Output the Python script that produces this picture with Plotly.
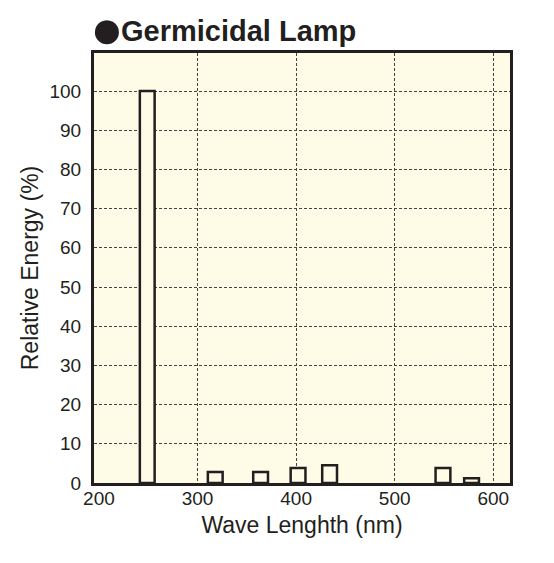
import plotly.graph_objects as go

# Spectral lines
wavelength = [249, 318, 364, 402, 434, 549, 578]   # nm
energy = [100, 2.8, 2.8, 3.8, 4.5, 3.8, 1.2]        # relative energy (%)
bar_width = 15

x_ticks = [200, 300, 400, 500, 600]
x_grid = [300, 400, 500, 600]
y_ticks = list(range(0, 101, 10))

ink = "#231f20"
paper_bg = "#fefbe6"
font_family = "Liberation Sans, Arial, sans-serif"

fig = go.Figure(go.Bar(
    x=wavelength, y=energy, width=bar_width,
    marker=dict(color=paper_bg, line=dict(color=ink, width=2.5)),
    showlegend=False,
))

# page body has an 8px margin, so the figure is 8px smaller than the window
fig.update_layout(
    width=546, height=555,
    margin=dict(l=86, r=44, t=45, b=80),
    paper_bgcolor="white",
    plot_bgcolor=paper_bg,
    font=dict(family=font_family, size=19, color=ink),
    annotations=[
        dict(  # big bullet in front of the heading
            text="●", font=dict(family=font_family, size=56, color=ink),
            xref="paper", x=0.0, xanchor="center", xshift=13,
            yref="paper", y=1.0, yanchor="middle", yshift=25,
            showarrow=False,
        ),
        dict(
            text="<b>Germicidal Lamp</b>",
            font=dict(family=font_family, size=29, color=ink),
            xref="paper", x=0.0, xanchor="left", xshift=25,
            yref="paper", y=1.0, yanchor="middle", yshift=22,
            showarrow=False,
        ),
    ],
)

fig.update_xaxes(
    range=[195, 617],
    tickvals=x_ticks,
    showgrid=False,
    minor=dict(tickvals=x_grid, showgrid=True, gridcolor="#444",
               griddash="3px,2px", gridwidth=1, ticklen=0),
    showline=True, linecolor=ink, linewidth=3, mirror=True,
    zeroline=False, ticks="", ticklabelstandoff=-4,
    title=dict(text="Wave Lenghth (nm)", standoff=10),
)
fig.update_yaxes(
    range=[0, 109.7],
    tickvals=y_ticks,
    showgrid=True, gridcolor="#444", griddash="3px,2px", gridwidth=1,
    showline=True, linecolor=ink, linewidth=3, mirror=True,
    zeroline=False, ticks="", ticklabelstandoff=6,
    title=dict(text="Relative Energy (%)", standoff=5),
)

fig.write_html("out.html")
